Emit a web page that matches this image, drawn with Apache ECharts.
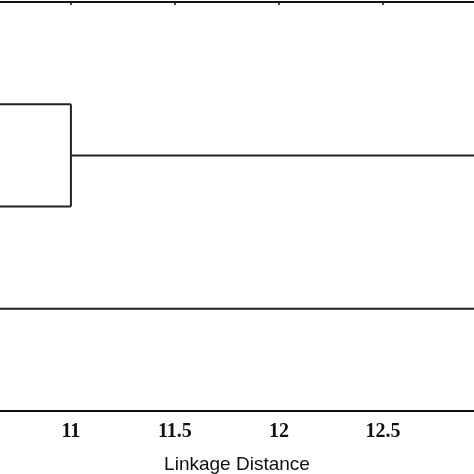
<!DOCTYPE html>
<html><head><meta charset="utf-8">
<script src="https://cdn.jsdelivr.net/npm/echarts@6/dist/echarts.min.js"></script>
<style>html,body{margin:0;padding:0;background:#fff}#c{width:474px;height:474px}</style>
</head><body><div id="c"></div>
<script>
// Leaf positions (rows) and linkage distances
var leafRows = [1, 2, 3];
var leafStart = 10.5;               // left end of leaf branches (off the visible range)
var mergeA = 11.0;                  // leaves 1 and 2 join here
var mergeTop = 13.3;                // remaining clusters join beyond visible range
var tickValues = [11, 11.5, 12, 12.5];
var axisMin = 10.659, axisMax = 12.938;
var axisTitle = 'Linkage Distance';

var segments = [
  [[leafStart, leafRows[0]], [mergeA, leafRows[0]]],
  [[leafStart, leafRows[1]], [mergeA, leafRows[1]]],
  [[mergeA, leafRows[0]], [mergeA, leafRows[1]]],
  [[mergeA, (leafRows[0] + leafRows[1]) / 2], [mergeTop, (leafRows[0] + leafRows[1]) / 2]],
  [[leafStart, leafRows[2]], [mergeTop, leafRows[2]]]
];

var chart = echarts.init(document.getElementById('c'), null, {renderer: 'canvas'});
chart.setOption({
  animation: false,
  backgroundColor: '#fff',
  grid: {left: 0, right: 0, top: 2, bottom: 63, containLabel: false, outerBoundsMode: 'none'},
  xAxis: [{
    type: 'value', min: axisMin, max: axisMax, position: 'bottom',
    axisLine: {show: true, onZero: false, lineStyle: {color: '#111', width: 2}},
    axisTick: {show: false},
    splitLine: {show: false},
    axisLabel: {
      customValues: tickValues, showMinLabel: true, showMaxLabel: true,
      margin: 11, color: '#111', fontFamily: 'Liberation Serif', fontWeight: 'bold', fontSize: 20
    },
    name: axisTitle, nameLocation: 'middle', nameGap: 44,
    nameTextStyle: {color: '#111', fontFamily: 'Liberation Sans', fontSize: 19}
  }, {
    type: 'value', min: axisMin, max: axisMax, position: 'top',
    axisLine: {show: true, onZero: false, lineStyle: {color: '#111', width: 2}},
    axisTick: {show: true, inside: true, length: 3, customValues: tickValues, lineStyle: {color: '#111', width: 1.5}},
    axisLabel: {show: false}, splitLine: {show: false}
  }],
  yAxis: {type: 'value', min: 0, max: 4, inverse: true, show: false},
  series: segments.map(function (s) {
    return {
      type: 'line', data: s, symbol: 'none', clip: true,
      lineStyle: {color: '#222', width: 2}
    };
  })
});
</script></body></html>
